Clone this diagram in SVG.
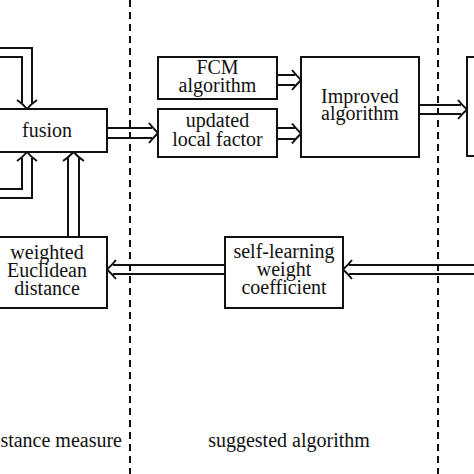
<svg xmlns="http://www.w3.org/2000/svg" width="474" height="474" viewBox="0 0 474 474">
<style>
.box{fill:#fff;stroke:#111;stroke-width:2}
.ln{fill:none;stroke:#111;stroke-width:2}
.hd{fill:none;stroke:#111;stroke-width:2;stroke-linejoin:miter}
.dash{fill:none;stroke:#111;stroke-width:2;stroke-dasharray:7 5}
text{font-family:"Liberation Serif","Times New Roman",serif;font-size:20px;fill:#111;text-anchor:middle}
</style>
<rect width="474" height="474" fill="#fff"/>
<g id="connectors">
<path class="ln" d="M0,48 H32 V103 M0,57 H22 V103"/>
<path class="hd" d="M17,100 Q23,104 27,109 Q31,104 37,100"/>
<path class="ln" d="M0,189 H22 V158 M0,198 H32 V158"/>
<path class="hd" d="M17,161 Q23,157 27,152 Q31,157 37,161"/>
<path class="ln" d="M68,237 V158 M79,237 V158"/>
<path class="hd" d="M63,161 Q69,157 73.5,152 Q78,157 84,161"/>
<path class="ln" d="M107,128 H152 M107,138 H152"/>
<path class="hd" d="M149,123 Q153,128 158,133 Q153,138 149,143"/>
<path class="ln" d="M277,75 H295 M277,85 H295"/>
<path class="hd" d="M292,70 Q296,75 301,80 Q296,85 292,90"/>
<path class="ln" d="M277,128 H295 M277,139 H295"/>
<path class="hd" d="M292,123.5 Q296,128.5 301,133.5 Q296,138.5 292,143.5"/>
<path class="ln" d="M419,105 H461 M419,114 H461"/>
<path class="hd" d="M458,100 Q462,105 467,109.5 Q462,114 458,119"/>
<path class="ln" d="M225,265 H113 M225,274 H113"/>
<path class="hd" d="M116,260 Q112,265 107,269.5 Q112,274 116,279"/>
<path class="ln" d="M474,265 H349 M474,274 H349"/>
<path class="hd" d="M352,260 Q348,265 343,269.5 Q348,274 352,279"/>
</g>
<g id="dividers">
<line class="dash" x1="130" y1="0" x2="130" y2="474"/>
<line class="dash" x1="438" y1="0" x2="438" y2="474"/>
</g>
<g id="fusion">
<rect class="box" x="-10" y="109" width="117" height="43"/>
<text x="47" y="137">fusion</text>
</g>
<g id="fcm">
<rect class="box" x="158" y="57" width="119" height="42"/>
<text x="217.5" y="74">FCM</text>
<text x="217.5" y="92">algorithm</text>
</g>
<g id="updated">
<rect class="box" x="158" y="109" width="119" height="48"/>
<text x="217.5" y="127">updated</text>
<text x="217.5" y="146">local factor</text>
</g>
<g id="improved">
<rect class="box" x="301" y="57" width="118" height="100"/>
<text x="360" y="103">Improved</text>
<text x="360" y="120">algorithm</text>
</g>
<g id="right-box">
<rect class="box" x="467" y="57" width="20" height="99"/>
</g>
<g id="weighted">
<rect class="box" x="-10" y="237" width="117" height="71"/>
<text x="47" y="259">weighted</text>
<text x="47" y="277">Euclidean</text>
<text x="47" y="295">distance</text>
</g>
<g id="selflearning">
<rect class="box" x="225" y="237" width="118" height="71"/>
<text x="284" y="258">self-learning</text>
<text x="284" y="276">weight</text>
<text x="284" y="294">coefficient</text>
</g>
<g id="labels">
<text x="122" y="447" style="text-anchor:end">stance measure</text>
<text x="289" y="447">suggested algorithm</text>
</g>
</svg>
